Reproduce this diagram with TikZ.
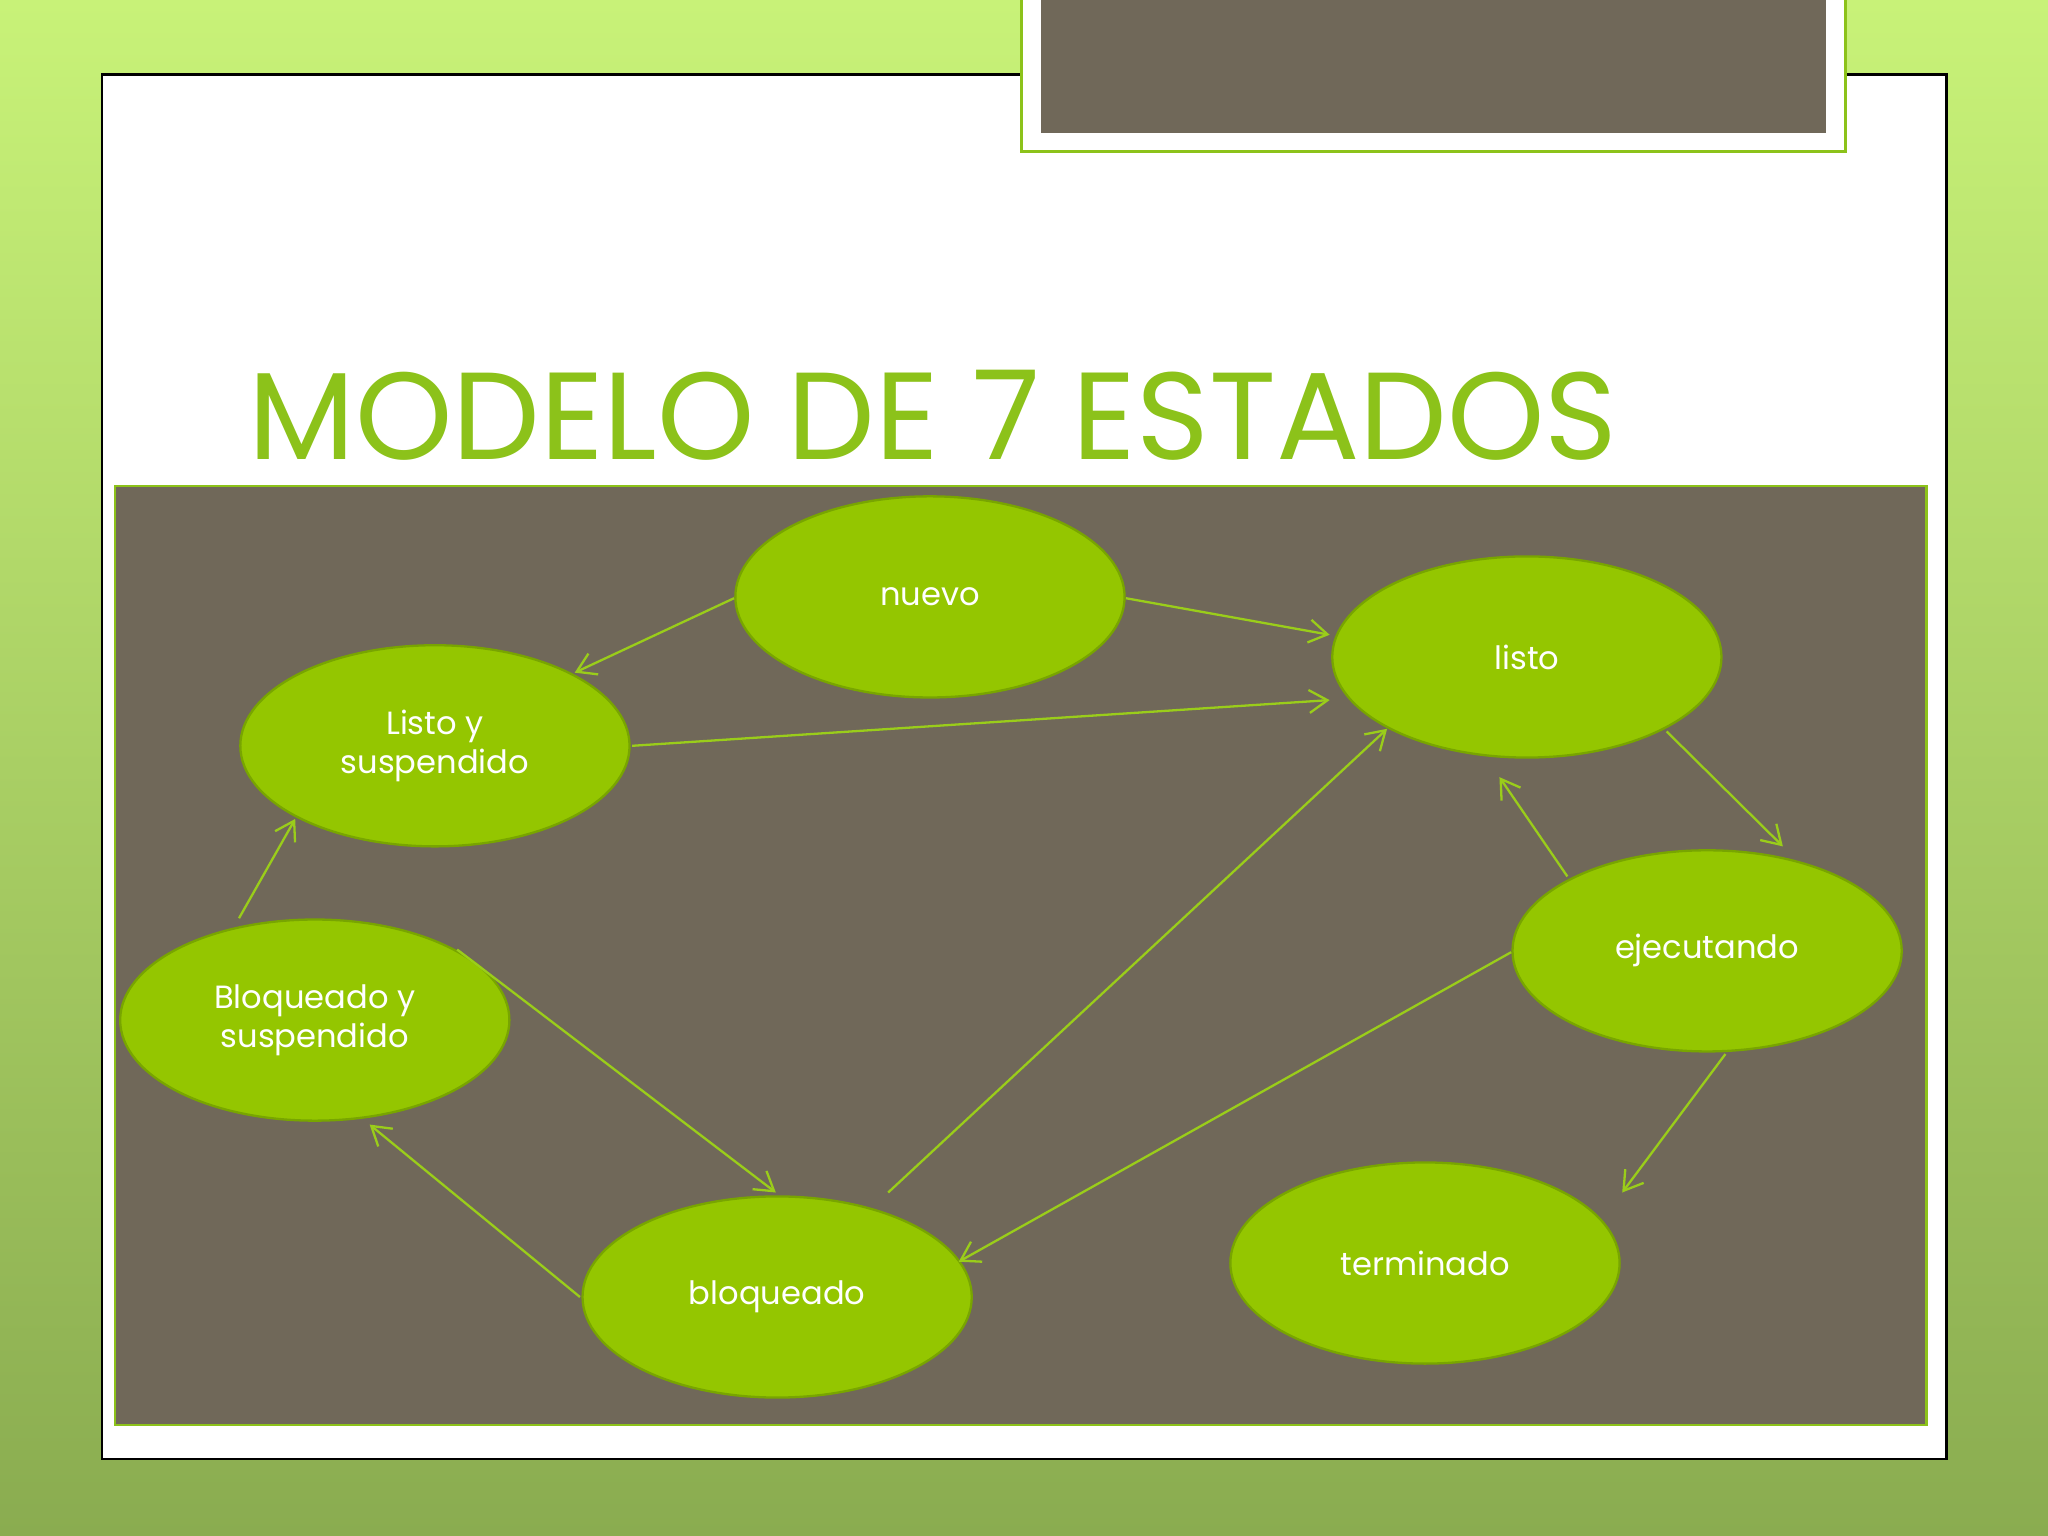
\documentclass[tikz,border=0pt]{standalone}
\usepackage{fontspec}
\setmainfont{Poppins}
\begin{document}
\begin{tikzpicture}[x=0.02cm,y=-0.02cm,
  st/.style={ellipse,draw=green!40!black!30!lime!80!black,fill=stgreen,line width=1pt,minimum width=298\pgflinewidth,text=white,font=\fontsize{14}{17}\selectfont,align=center},
  ar/.style={draw=arrgreen,line width=1pt,-{Straight Barb[length=8pt,width=10pt]}}]
\usetikzlibrary{shapes.geometric,arrows.meta}
\definecolor{stgreen}{HTML}{94C600}
\definecolor{arrgreen}{HTML}{9ACD1A}
\definecolor{titlegreen}{HTML}{8CC21A}
\definecolor{panel}{HTML}{706859}
\useasboundingbox (0,0) rectangle (1568,1176);
\shade[top color={rgb,255:red,200;green,242;blue,120},bottom color={rgb,255:red,138;green,172;blue,80}] (0,0) rectangle (1568,1176);
\draw[fill=white,line width=1.2pt] (78,57) rectangle (1490,1117);
\draw[fill=white,draw=titlegreen,line width=1.5pt] (782,-5) rectangle (1413,116);
\fill[panel] (797,-5) rectangle (1398,102);
\node[anchor=base west,text=titlegreen,font=\fontsize{54}{60}\selectfont,inner sep=0] (title) at (190,352) {MODELO DE 7 ESTADOS};
\draw[fill=panel,draw=titlegreen,line width=1.2pt] (88,372) rectangle (1475,1091);
\foreach \n/\x/\y/\t in {nuevo/712/457/nuevo, listo/1169/503/listo, lys/333/571/{Listo y\\suspendido}, ejec/1307/728/ejecutando, bys/241/781/{Bloqueado y\\suspendido}, term/1091/967/terminado, bloq/595/993/bloqueado}
  \node[ellipse,draw={rgb,255:red,120;green,165;blue,0},fill=stgreen,line width=1pt,minimum width=298*0.02cm,minimum height=154*0.02cm,inner sep=0,text=white,font=\fontsize{14}{17}\selectfont,align=center] (\n) at (\x,\y) {\t};
\coordinate (a1) at (562,458); \coordinate (b1) at (440,515);
\coordinate (a2) at (862,458); \coordinate (b2) at (1018,486);
\coordinate (a3) at (484,571); \coordinate (b3) at (1018,536);
\coordinate (a4) at (183,703); \coordinate (b4) at (226,627);
\coordinate (a5) at (350,727); \coordinate (b5) at (594,913);
\coordinate (a6) at (444,993); \coordinate (b6) at (283,861);
\coordinate (a7) at (680,913); \coordinate (b7) at (1062,558);
\coordinate (a8) at (1157,729); \coordinate (b8) at (734,966);
\coordinate (a9) at (1200,671); \coordinate (b9) at (1148,595);
\coordinate (a10) at (1276,560); \coordinate (b10) at (1365,648);
\coordinate (a11) at (1321,807); \coordinate (b11) at (1242,913);
\foreach \i in {1,...,11} \draw[ar] (a\i) -- (b\i);
\end{tikzpicture}
\end{document}
